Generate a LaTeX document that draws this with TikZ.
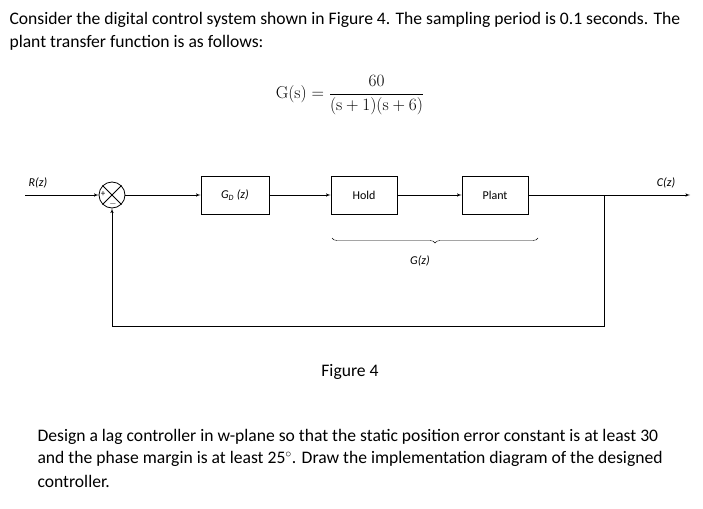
\documentclass[tikz,border=0pt]{standalone}
\usepackage[no-math]{fontspec}
\setmainfont{Carlito}
\usetikzlibrary{arrows, decorations.pathreplacing}
\tikzset{
	block/.style = {rectangle, draw=black, thick, minimum width=68pt, minimum height=38pt, font=\fontsize{12}{14}\selectfont},
	sumnode/.style = {circle, draw=black, thick, minimum size=26pt, inner sep=0pt},
	sig/.style = {font=\fontsize{12}{14}\selectfont\itshape},
	para/.style = {anchor=west, font=\fontsize{17.6}{22}\selectfont},
	line/.style = {draw, semithick, -latex'}
}

\begin{document}
\begin{tikzpicture}[x=1pt, y=-1pt]
		\useasboundingbox (0,0) rectangle (703,508);
		% question text
		\node (q1) [para] at (6,20) {Consider the digital control system shown in Figure 4. The sampling period is 0.1 seconds. The};
		\node (q2) [para] at (6,43) {plant transfer function is as follows:};
		\node (gs) at (350,95) {\fontsize{16}{19}\selectfont$\displaystyle\mathrm{G(s)}=\frac{60}{(\mathrm{s}+1)(\mathrm{s}+6)}$};

		% blocks
		\node (sum) [sumnode] at (112,195) {};
		\draw[thick] (sum.north west) -- (sum.south east) (sum.north east) -- (sum.south west);
		\node [font=\fontsize{9}{10}\selectfont] at (103,194) {+};
		\node [font=\fontsize{9}{10}\selectfont] at (113,204) {$-$};
		\node (gd) [block] at (235,195) {\textit{G\textsubscript{D} (z)}};
		\node (hold) [block, minimum width=66pt] at (364,195) {Hold};
		\node (plant) [block, minimum width=66pt] at (495,195) {Plant};
		\coordinate (rin) at (25,195);
		\coordinate (tap) at (604,195);
		\coordinate (cout) at (690,195);
		\coordinate (fb) at (604,326);
		\node (rz) [sig] at (38,183) {R(z)};
		\node (cz) [sig] at (666,183) {C(z)};

		% connections
		\path [line] (rin) -- (sum);
		\path [line] (sum) -- (gd);
		\path [line] (gd) -- (hold);
		\path [line] (hold) -- (plant);
		\path [line] (plant) -- (cout);
		\path [line] (tap) -- (fb) -| (sum);

		% brace
		\draw [decorate, decoration={brace, mirror, amplitude=5pt}] (332,238) -- (538,238);
		\node (gz) [sig] at (420,261) {G(z)};
		\node (fig) [font=\fontsize{17.6}{20}\selectfont] at (350,372) {Figure 4};

		% task text
		\node (t1) [para] at (34,437) {Design a lag controller in w-plane so that the static position error constant is at least 30};
		\node (t2) [para] at (34,459) {and the phase margin is at least 25$^{\circ}$. Draw the implementation diagram of the designed};
		\node (t3) [para] at (34,481) {controller.};
\end{tikzpicture}
\end{document}
